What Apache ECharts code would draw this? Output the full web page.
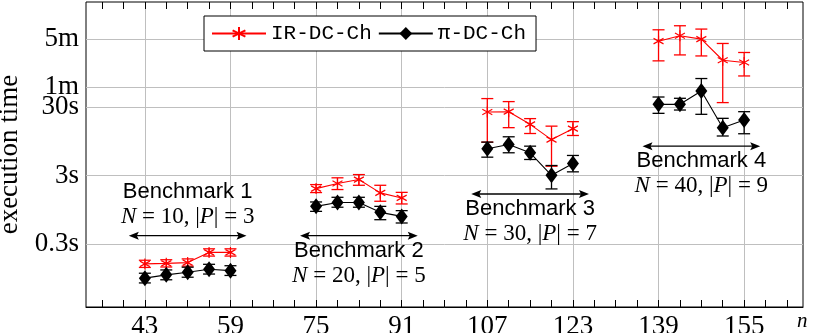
<!DOCTYPE html>
<html>
<head>
<meta charset="utf-8">
<script src="https://cdn.jsdelivr.net/npm/echarts@6/dist/echarts.min.js"></script>
<style>
  html, body { margin: 0; padding: 0; background: #fff; }
  #chart { width: 813px; height: 333px; }
</style>
</head>
<body>
<div id="chart"></div>
<script>
// problem sizes n (x axis)
const nValues = [43, 47, 51, 55, 59, 75, 79, 83, 87, 91, 107, 111, 115, 119, 123, 139, 143, 147, 151, 155]
const nTicks = [43, 59, 75, 91, 107, 123, 139, 155]
const nMin = 32
const nMax = 166

// execution times in seconds
const irMean = [0.152, 0.155, 0.159, 0.224, 0.224, 1.93, 2.29, 2.62, 1.67, 1.41, 25.6, 25.9, 16.9, 10.1, 14.6, 280, 336, 300, 147, 136]
const irLo = [0.135, 0.137, 0.141, 0.198, 0.198, 1.69, 1.87, 2.16, 1.26, 1.15, 9.27, 15.1, 12.4, 4.11, 11.6, 144, 176, 170, 35.2, 86.5]
const irHi = [0.172, 0.175, 0.180, 0.253, 0.253, 2.21, 2.78, 3.10, 2.16, 1.70, 40.3, 36.4, 20.5, 15.9, 18.5, 411, 471, 421, 259, 191]
const piMean = [0.094, 0.105, 0.115, 0.127, 0.121, 1.06, 1.21, 1.21, 0.866, 0.756, 7.41, 8.57, 6.47, 3.03, 4.50, 33.2, 33.2, 52.2, 15.1, 19.5]
const piLo = [0.080, 0.089, 0.097, 0.108, 0.103, 0.896, 1.03, 1.03, 0.676, 0.605, 5.58, 6.47, 5.16, 1.91, 3.40, 24.5, 27.4, 23.7, 11.4, 12.3]
const piHi = [0.111, 0.124, 0.136, 0.150, 0.143, 1.23, 1.44, 1.44, 1.06, 0.918, 9.27, 11.1, 8.09, 4.21, 5.91, 42.5, 40.7, 79.3, 20.7, 25.9]

const yMin = 0.0355
const yMax = 1050
const yTickValues = [0.3, 3, 30, 60, 300]
const yTickLabels = ['0.3s', '3s', '30s', '1m', '5m']

// benchmark annotations
const benchNames = ['Benchmark 1', 'Benchmark 2', 'Benchmark 3', 'Benchmark 4']
const benchN = [10, 20, 30, 40]
const benchP = [3, 5, 7, 9]
const arrowFrom = [40, 72, 104, 136]
const arrowTo = [62, 94, 126, 158]
const arrowAt = [0.394, 0.394, 1.61, 8.09]

const textAbove = [true, false, false, false]
const serif = '"Liberation Serif", "Times New Roman", serif'
const sans = '"Liberation Sans", Arial, sans-serif'
const mono = '"Liberation Mono", "Courier New", monospace'
const asterisk = 'path://M0 -1L0 1M-0.866 -0.5L0.866 0.5M-0.866 0.5L0.866 -0.5'

const lg = v => Math.log10(v)
const categories = []
for (let n = nMin; n <= nMax; n++) categories.push(String(n))

const isMinor = (i, v) => (Number(v) - nTicks[0]) % 4 === 0
const isMajor = (i, v) => nTicks.includes(Number(v))

const withGaps = means => {
  const out = []
  nValues.forEach((n, i) => {
    if (i > 0 && n - nValues[i - 1] > 4) out.push([String(n - 8), null])
    out.push([String(n), lg(means[i])])
  })
  return out
}

const errRows = (lo, hi) => nValues.map((n, i) => [String(n), lg(lo[i]), lg(hi[i])])

const errRender = color => (params, api) => {
  const top = api.coord([api.value(0), api.value(2)])
  const bot = api.coord([api.value(0), api.value(1)])
  const w = 6
  const style = { stroke: color, lineWidth: 1.3 }
  return {
    type: 'group',
    children: [
      { type: 'line', shape: { x1: top[0], y1: top[1], x2: bot[0], y2: bot[1] }, style },
      { type: 'line', shape: { x1: top[0] - w, y1: top[1], x2: top[0] + w, y2: top[1] }, style },
      { type: 'line', shape: { x1: bot[0] - w, y1: bot[1], x2: bot[0] + w, y2: bot[1] }, style },
    ],
  }
}

const annRender = (params, api) => {
  const i = params.dataIndex
  const a = api.coord([api.value(0), api.value(2)])
  const b = api.coord([api.value(1), api.value(2)])
  const y = a[1]
  const mid = (a[0] + b[0]) / 2
  const hl = 10, hw = 4
  const t1 = textAbove[i] ? y - 44 : y + 15
  const t2 = textAbove[i] ? y - 19 : y + 40
  return {
    type: 'group',
    children: [
      { type: 'line', shape: { x1: a[0] + 4, y1: y, x2: b[0] - 4, y2: y }, style: { stroke: '#000', lineWidth: 1.3 } },
      { type: 'polygon', shape: { points: [[a[0], y], [a[0] + hl, y - hw], [a[0] + hl - 2, y], [a[0] + hl, y + hw]] }, style: { fill: '#000' } },
      { type: 'polygon', shape: { points: [[b[0], y], [b[0] - hl, y - hw], [b[0] - hl + 2, y], [b[0] - hl, y + hw]] }, style: { fill: '#000' } },
      {
        type: 'text', x: mid, y: t1,
        style: { text: benchNames[i], font: '22px ' + sans, fill: '#000', align: 'center', verticalAlign: 'middle', textAlign: 'center', textVerticalAlign: 'middle' },
      },
      {
        type: 'text', x: mid, y: t2,
        style: {
          text: '{i|N}{r| = ' + benchN[i] + ', |}{i|P}{r|| = ' + benchP[i] + '}',
          rich: {
            i: { fontFamily: serif, fontSize: 23, fontStyle: 'italic', fill: '#000' },
            r: { fontFamily: serif, fontSize: 23, fill: '#000' },
          },
          font: '23px ' + serif, fill: '#000',
          align: 'center', verticalAlign: 'middle', textAlign: 'center', textVerticalAlign: 'middle',
        },
      },
    ],
  }
}

const chart = echarts.init(document.getElementById('chart'))
chart.setOption({
  animation: false,
  grid: { left: 86, right: 10, top: 2, bottom: 26, show: true, borderColor: '#000', borderWidth: 1, outerBoundsMode: 'none', containLabel: false },
  legend: {
    data: ['IR-DC-Ch', 'π-DC-Ch'],
    left: 204, top: 16,
    itemWidth: 54, itemHeight: 16, itemGap: 6,
    padding: [7, 10, 7, 7],
    backgroundColor: '#fff', borderColor: '#000', borderWidth: 1, borderRadius: 0,
    selectedMode: false,
    textStyle: { fontFamily: mono, fontSize: 21, color: '#000' },
  },
  xAxis: [
    {
      type: 'category', data: categories, boundaryGap: false, position: 'bottom',
      axisLine: { show: true, onZero: false, lineStyle: { color: '#000', width: 1 } },
      axisTick: { show: true, inside: true, length: 7, interval: isMinor, lineStyle: { color: '#000' } },
      axisLabel: { interval: isMajor, color: '#000', fontFamily: serif, fontSize: 27, margin: 6 },
      splitLine: { show: true, interval: isMajor, lineStyle: { color: '#bfbfbf', width: 1 } },
    },
    {
      type: 'category', data: categories, boundaryGap: false, position: 'top',
      axisLine: { show: false, onZero: false },
      axisTick: { show: true, inside: true, length: 7, interval: isMinor, lineStyle: { color: '#000' } },
      axisLabel: { show: false },
      splitLine: { show: false },
    },
  ],
  yAxis: {
    type: 'value', min: lg(yMin), max: lg(yMax),
    name: 'execution time', nameLocation: 'middle', nameGap: 56,
    nameTextStyle: { fontFamily: serif, fontSize: 27, color: '#000' },
    axisLine: { show: false },
    axisTick: { show: false, customValues: yTickValues.map(lg) },
    axisLabel: {
      customValues: yTickValues.map(lg), color: '#000', fontFamily: serif, fontSize: 27, margin: 7,
      formatter: v => yTickLabels[yTickValues.findIndex(t => Math.abs(lg(t) - v) < 1e-6)] || '',
    },
    splitLine: { show: true, lineStyle: { color: '#bfbfbf', width: 1 } },
  },
  graphic: [
    { type: 'text', left: 797, top: 311, style: { text: 'n', font: 'italic 21px ' + serif, fill: '#000' } },
  ],
  series: [
    { type: 'custom', name: 'irErr', data: errRows(irLo, irHi), encode: { x: 0, y: [1, 2] }, renderItem: errRender('#ff0000'), silent: true, z: 2 },
    { type: 'custom', name: 'piErr', data: errRows(piLo, piHi), encode: { x: 0, y: [1, 2] }, renderItem: errRender('#000'), silent: true, z: 2 },
    {
      type: 'line', name: 'IR-DC-Ch', data: withGaps(irMean), connectNulls: false, showAllSymbol: true,
      symbol: asterisk, symbolSize: [10, 11],
      lineStyle: { color: '#ff0000', width: 1.1 },
      itemStyle: { color: '#ff0000', borderColor: '#ff0000', borderWidth: 1.2 },
      z: 3,
    },
    {
      type: 'line', name: 'π-DC-Ch', data: withGaps(piMean), connectNulls: false, showAllSymbol: true,
      symbol: 'diamond', symbolSize: [12, 16],
      lineStyle: { color: '#000', width: 1.1 },
      itemStyle: { color: '#000' },
      z: 3,
    },
    {
      type: 'custom', name: 'bench',
      data: benchNames.map((b, i) => [String(arrowFrom[i]), String(arrowTo[i]), lg(arrowAt[i])]),
      encode: { x: [0, 1], y: 2 }, renderItem: annRender, silent: true, z: 4,
    },
  ],
})
</script>
</body>
</html>
